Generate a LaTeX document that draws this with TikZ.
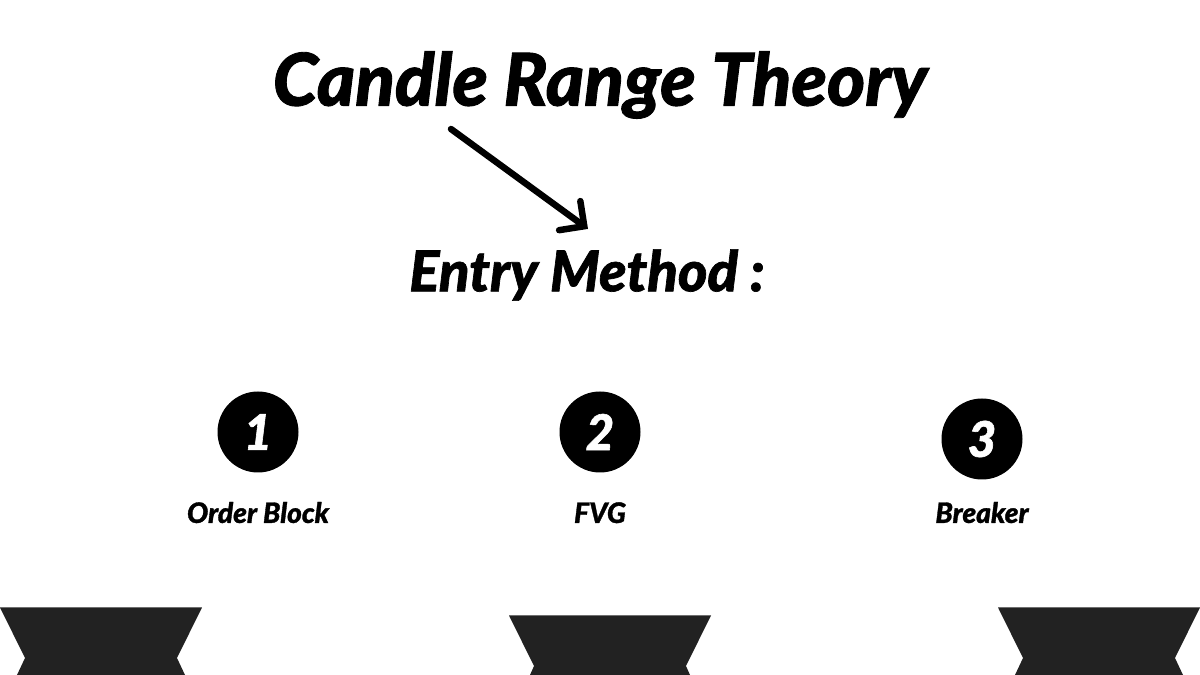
\documentclass[tikz,border=0pt]{standalone}
\usepackage{fontspec}
\setmainfont[FakeBold=1.2]{Lato Black Italic}
\usetikzlibrary{positioning,calc,arrows.meta}
\definecolor{ribboncol}{HTML}{222222}

\begin{document}
\begin{tikzpicture}[
      title/.style = {font=\fontsize{20.7}{24}\selectfont},
      subtitle/.style = {font=\fontsize{16}{18}\selectfont},
      badge/.style = {circle, fill=black, text=white, minimum size=0.81cm, inner sep=0pt, font=\fontsize{14}{16}\selectfont},
      lbl/.style = {font=\fontsize{8}{9}\selectfont, inner sep=0pt, text height=0.2cm, text depth=0pt},
      pointer/.style = {-{Straight Barb[length=1.8mm,width=3.6mm,line cap=round]}, line width=0.065cm, line cap=round},
      ribbon/.style = {fill=ribboncol}
      ]
      \useasboundingbox (0,0) rectangle (12,6.75);

      \node[title] (title) at (6,5.9) {Candle Range Theory};
      \node[subtitle] (entry) at (5.87,4) {Entry Method :};

      \node[badge] (one) at (2.58,2.43) {1};
      \node[badge] (two) at (6,2.43) {2};
      \node[badge] (three) at (9.82,2.36) {3};

      \node[lbl, below=0.29cm of one] (orderblock) {Order Block};
      \node[lbl, below=0.29cm of two] (fvg) {FVG};
      \node[lbl, below=0.22cm of three] (breaker) {Breaker};

      \draw[pointer] ([xshift=-1.49cm,yshift=0.02cm]title.south) -- ([xshift=0.01cm,yshift=0.08cm]entry.north);

      \fill[ribbon] (0,0.675) -- (2.02,0.675) -- (1.77,0.17) -- (1.85,0) -- (0.17,0) -- (0.25,0.17) -- cycle;
      \fill[ribbon] (5.09,0.595) -- (7.11,0.595) -- (6.86,0.09) -- (6.9,0) -- (5.3,0) -- (5.34,0.09) -- cycle;
      \fill[ribbon] (9.98,0.675) -- (12,0.675) -- (11.75,0.17) -- (11.83,0) -- (10.15,0) -- (10.23,0.17) -- cycle;
    \end{tikzpicture}
\end{document}
